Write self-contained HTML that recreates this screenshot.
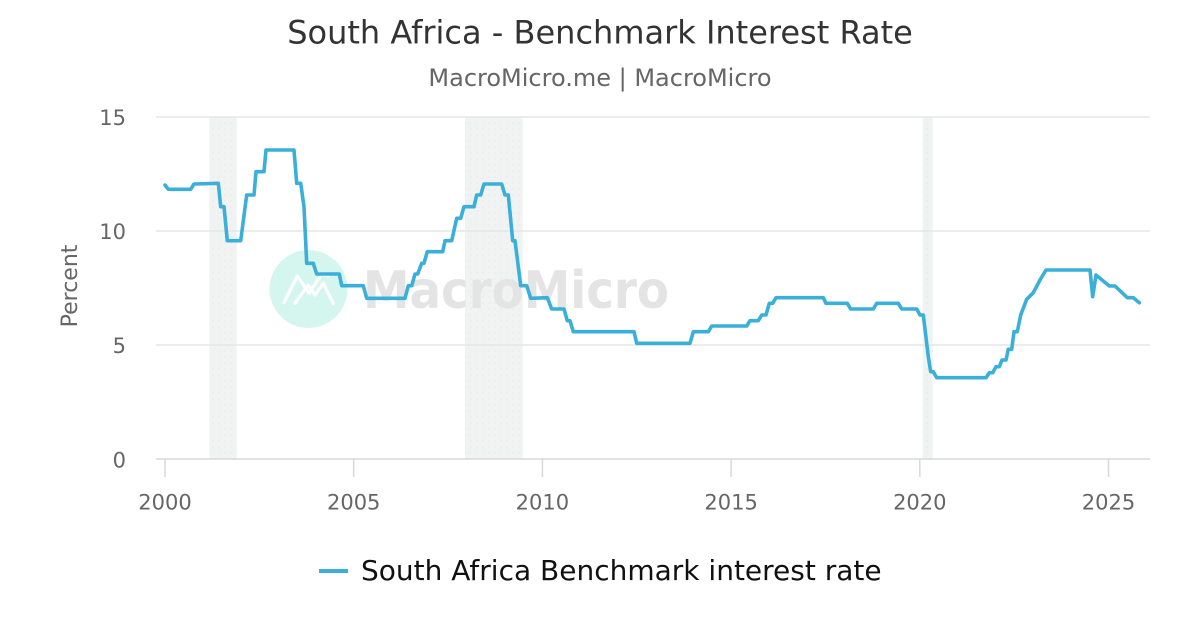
<!DOCTYPE html>
<html><head><meta charset="utf-8"><style>
html,body{margin:0;padding:0;background:#fff;}
svg{display:block;font-family:"DejaVu Sans","Liberation Sans",sans-serif;}
</style></head><body>
<svg width="1200" height="630" viewBox="0 0 1200 630" xmlns="http://www.w3.org/2000/svg">
<defs>
<pattern id="dots" width="6" height="6" patternUnits="userSpaceOnUse"><rect width="6" height="6" fill="#f1f3f3"/><circle cx="3" cy="3" r="0.6" fill="#e2e6e6"/></pattern>
</defs>
<rect width="1200" height="630" fill="#fff"/>
<text x="600" y="43.5" text-anchor="middle" font-size="32" fill="#333">South Africa - Benchmark Interest Rate</text>
<text x="600" y="86" text-anchor="middle" font-size="24" fill="#666">MacroMicro.me | MacroMicro</text>
<!-- recession bands -->
<rect x="209.3" y="117" width="27.4" height="342" fill="url(#dots)"/>
<rect x="465" y="117" width="57.7" height="342" fill="url(#dots)"/>
<rect x="922.7" y="117" width="10" height="342" fill="url(#dots)"/>
<!-- gridlines -->
<g stroke="#e6e6e6" stroke-width="1.5">
<line x1="156" y1="117" x2="1150" y2="117"/>
<line x1="156" y1="231" x2="1150" y2="231"/>
<line x1="156" y1="345" x2="1150" y2="345"/>
</g>
<line x1="156" y1="459" x2="1150" y2="459" stroke="#d8d8d8" stroke-width="1.5"/>
<g stroke="#d8d8d8" stroke-width="1.5">
<line x1="165" y1="459" x2="165" y2="477"/>
<line x1="353.7" y1="459" x2="353.7" y2="477"/>
<line x1="542.4" y1="459" x2="542.4" y2="477"/>
<line x1="731.1" y1="459" x2="731.1" y2="477"/>
<line x1="919.8" y1="459" x2="919.8" y2="477"/>
<line x1="1108.5" y1="459" x2="1108.5" y2="477"/>
</g>
<!-- watermark -->
<circle cx="308.5" cy="289" r="39" fill="#d5f6ef"/>
<polyline points="284,302.7 297.3,276 309.3,293.3 321.7,274 328,276" fill="none" stroke="#fff" stroke-width="3.2" stroke-linejoin="round" stroke-linecap="round"/>
<polyline points="295,303.3 308.3,285 315,295 323.3,283.3 333.3,303.3" fill="none" stroke="#fff" stroke-width="3.2" stroke-linejoin="round" stroke-linecap="round"/>
<text x="363" y="308" font-size="52" font-weight="bold" fill="#e4e4e4" textLength="306" lengthAdjust="spacingAndGlyphs">MacroMicro</text>
<!-- y labels -->
<g font-size="21" fill="#666" text-anchor="end">
<text x="126" y="125">15</text>
<text x="126" y="239">10</text>
<text x="126" y="353">5</text>
<text x="126" y="467.5">0</text>
</g>
<g font-size="21" fill="#666" text-anchor="middle">
<text x="165" y="509.5">2000</text>
<text x="353.7" y="509.5">2005</text>
<text x="542.4" y="509.5">2010</text>
<text x="731.1" y="509.5">2015</text>
<text x="919.8" y="509.5">2020</text>
<text x="1108.5" y="509.5">2025</text>
</g>
<text transform="translate(77,286) rotate(-90)" text-anchor="middle" font-size="22" fill="#666">Percent</text>
<!-- series -->
<polyline fill="none" stroke="#3aafd9" stroke-width="3.6" stroke-linejoin="round" stroke-linecap="round" points="165,185 168.3,189.3 190.7,189.3 194,184 218.3,183.3 220.7,206.7 224,206.7 227.3,240.7 240.7,240.7 246.7,195 254,195 256,171.7 264,171.7 266,150 294,150 296.7,183.3 300.7,183.3 304,206.7 306.7,263.3 313.3,263.3 316.7,274 339.3,274 341.7,285.7 363.3,285.7 366.7,298.3 405,298.3 408.3,285.7 411.7,285.7 415,274 417.7,274 421.7,263.3 424,263.3 427.3,251.7 442.7,251.7 445,240.7 451.7,240.7 456.7,218.3 460.7,218.3 464,206.7 474,206.7 476.7,195 480.7,195 484,184 501.7,184 505,195 508.3,195 512.7,240.7 515,240.7 520.7,285.7 526.7,285.7 530.7,298.3 547.3,297.7 551.7,309 564,309 567.3,320.7 570,320.7 573.3,331.7 634,331.7 636.7,343.3 690,343.3 693.3,331.7 708.3,331.7 711.7,326 746.7,326 750,320.7 758.3,320.7 761.7,315 766,315 769.3,303.3 772.7,303.3 776,297.7 823.3,297.7 826,303.3 847.3,303.3 850.7,309 873.3,309 876.7,303.3 898.3,303.3 901.7,309 916.7,309 920,315 923.3,315 928.3,356.7 930.7,371.7 933.3,371.7 936.7,377.7 986,377.7 989.3,372.7 992.7,372.7 996,366.7 999.3,366.7 1002,360 1006,360 1008.3,349.3 1011.7,349.3 1014,331.7 1017.3,331.7 1020.7,315 1026.7,299.3 1033.3,292.7 1040,280 1046,270 1090,270 1092.7,296.7 1096,275 1109.3,286 1115,286 1127.3,297.7 1133.3,297.7 1139.3,302.7"/>
<!-- legend -->
<line x1="319" y1="571" x2="348" y2="571" stroke="#3aafd9" stroke-width="4"/>
<text x="361" y="580" font-size="28" fill="#111">South Africa Benchmark interest rate</text>
</svg>
</body></html>
